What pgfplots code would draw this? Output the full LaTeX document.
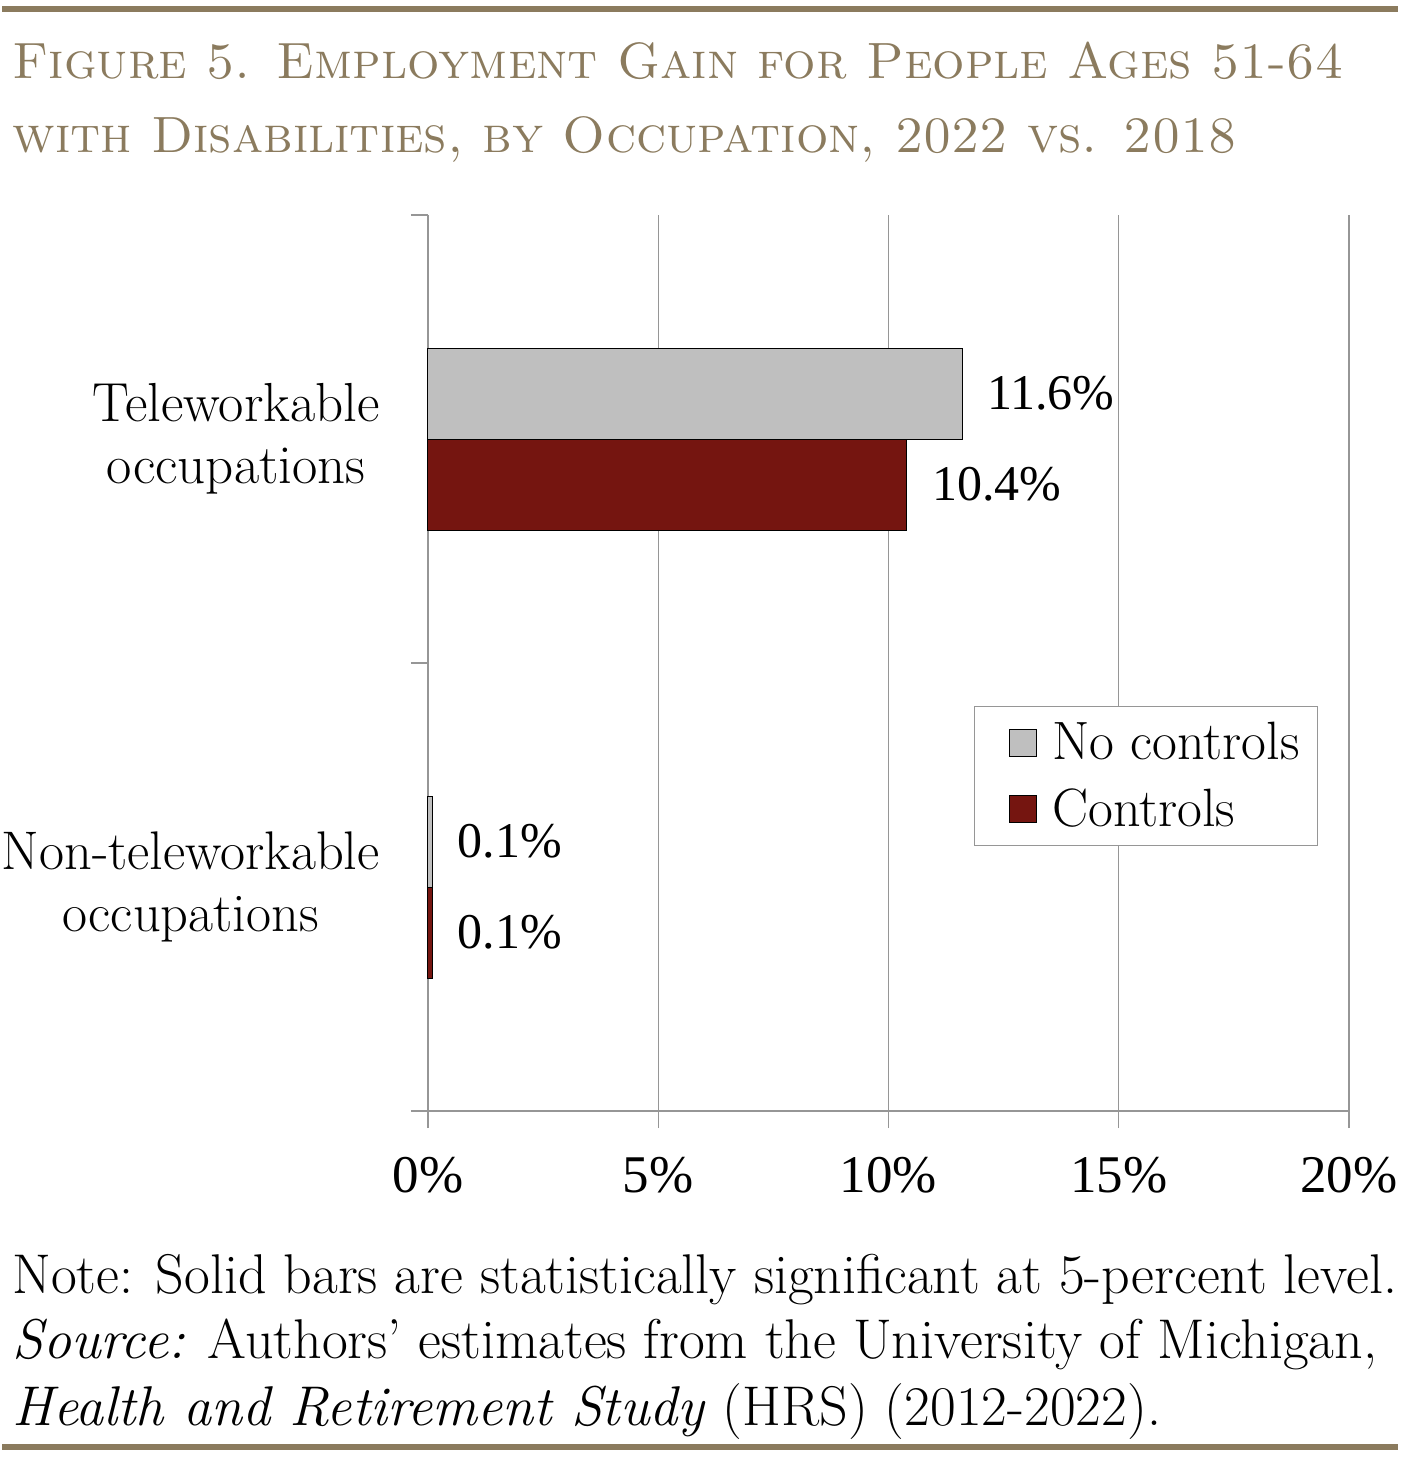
\documentclass[border=0pt]{standalone}
\usepackage{fontspec}
\usepackage{pgfplots}
\pgfplotsset{compat=1.18}
\newfontfamily\tnr{Liberation Serif}
\definecolor{titlegold}{RGB}{139,123,94}
\definecolor{barred}{RGB}{117,21,16}
\definecolor{bargray}{RGB}{191,191,191}
\definecolor{gridgray}{RGB}{150,150,150}

\begin{document}
\begin{tikzpicture}
\path[use as bounding box] (0,0) rectangle (702pt,-729pt);
% rules
\fill[titlegold] (1pt,-3pt) rectangle (699pt,-6pt);
\fill[titlegold] (1pt,-722pt) rectangle (699pt,-725pt);
% title
\node[anchor=base west, inner sep=0, text=titlegold, font=\fontsize{25.5}{25.5}\selectfont]
  at (6pt,-39pt) {\textsc{Figure 5. Employment Gain for People Ages 51-64}};
\node[anchor=base west, inner sep=0, text=titlegold, font=\fontsize{25.5}{25.5}\selectfont]
  at (6pt,-76pt) {\textsc{with Disabilities, by Occupation, 2022 vs. 2018}};
% notes
\node[anchor=base west, inner sep=0, font=\fontsize{28}{28}\selectfont]
  at (6pt,-646.5pt) {Note: Solid bars are statistically significant at 5-percent level.};
\node[anchor=base west, inner sep=0, font=\fontsize{28}{28}\selectfont]
  at (6pt,-679pt) {\textit{Source:} Authors' estimates from the University of Michigan,};
\node[anchor=base west, inner sep=0, font=\fontsize{28}{28}\selectfont]
  at (6pt,-712.5pt) {\textit{Health and Retirement Study} (HRS) (2012-2022).};

\begin{axis}[
  at={(214pt,-555.5pt)}, anchor=south west,
  scale only axis, width=460.5pt, height=448pt,
  xmin=0, xmax=20, ymin=0, ymax=2,
  xbar, bar width=45.5pt,
  axis x line*=bottom, axis y line*=left,
  axis line style={gridgray, line width=0.8pt, -},
  xtick={0,5,10,15,20}, xticklabels={0\%,5\%,10\%,15\%,20\%},
  xmajorgrids, grid style={gridgray, line width=0.6pt},
  ytick={0,1,2}, yticklabels={},
  tick align=outside, major tick length=8.5pt,
  tick style={gridgray, line width=0.6pt},
  xticklabel style={font=\tnr\fontsize{26.5}{26.5}\selectfont, yshift=-11pt},
  clip=false,
  /pgf/number format/assume math mode=true,
  point meta=x,
  nodes near coords={\pgfmathprintnumber[fixed,fixed zerofill,precision=1]{\pgfplotspointmeta}\%},
  nodes near coords style={font=\tnr\fontsize{25}{25}\selectfont, anchor=west, xshift=9pt},
  legend style={at={(0.9663,0.452)}, anchor=north east, draw=gridgray,
    font=\fontsize{27}{27}\selectfont, row sep=9pt, column sep=5.5pt,
    inner xsep=7pt, inner ysep=6pt},
  legend cell align=left,
  legend image code/.code={%
    \path (0pt,0pt);
    \draw[#1, draw=black, line width=0.5pt] (10.5pt,-6.75pt) rectangle (24pt,6.75pt);},
]
\addplot[fill=bargray, draw=black, line width=0.5pt, bar shift=22.75pt]
  coordinates {(11.6,1.5) (0.1,0.5)};
\addlegendentry{No controls}
\addplot[fill=barred, draw=black, line width=0.5pt, bar shift=-22.75pt]
  coordinates {(10.4,1.5) (0.1,0.5)};
\addlegendentry{Controls}

\node[anchor=east, align=center, inner sep=0, font=\fontsize{27.5}{31}\selectfont]
  at (axis cs:0,1.5) [xshift=-24pt] {Teleworkable\\occupations};
\node[anchor=east, align=center, inner sep=0, font=\fontsize{27.2}{31}\selectfont]
  at (axis cs:0,0.5) [xshift=-24pt] {Non-teleworkable\\occupations};
\end{axis}
\end{tikzpicture}
\end{document}
